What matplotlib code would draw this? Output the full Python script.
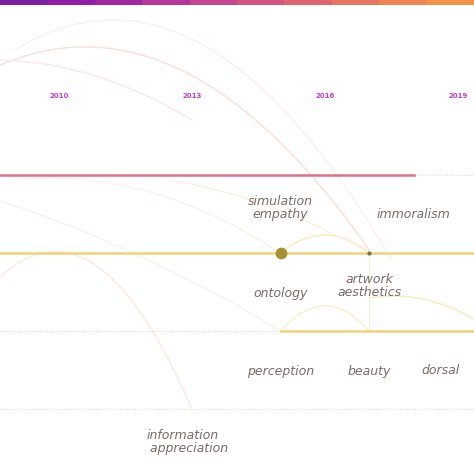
import numpy as np
import matplotlib
matplotlib.use("Agg")
from matplotlib import pyplot as plt

# timeline scale
years = [2010, 2013, 2016, 2019]
bar_colors = ["#7b1fa2", "#8e1fa6", "#a524a0", "#b8349a", "#c64490", "#d65482",
              "#e06470", "#ea7462", "#f18452", "#f5924a"]

# clusters (lane y in pixels), solid span (start year, end year)
lane_y = [175, 253, 331, 409]
lane_color = ["#e0708a", "#efd27a", "#efd27a", "#e0d8d0"]
lane_span = [(2008.6, 2018.0), (2008.6, 2019.4), (2015.0, 2019.4), None]

labels = ["simulation\nempathy", "immoralism", "ontology", "artwork\naesthetics", "de",
          "perception", "beauty", "dorsal", "information\n   appreciation"]
label_x = [2015.0, 2018.0, 2015.0, 2017.0, 2019.35, 2015.0, 2017.0, 2018.6, 2012.8]
label_y = [208, 215, 293, 286, 293, 371, 371, 371, 442]

# citation links: (year1, y1, year2, y2, peak height, colour)
links = [(2008.0, 80, 2017.0, 250, 100, "#f5e2dc"),
         (2008.5, 60, 2013.0, 120, 15, "#f8ebe7"),
         (2009.0, 50, 2017.5, 260, 110, "#faf1ee"),
         (2015.0, 253, 2017.0, 253, 18, "#f7ecc0"),
         (2015.0, 331, 2017.0, 331, 25, "#f9f0d0"),
         (2017.0, 298, 2019.4, 320, 10, "#f7ecc0"),
         (2009.0, 180, 2015.0, 253, 25, "#f9f3ea"),
         (2012.5, 180, 2017.0, 253, 10, "#f9f2e4"),
         (2008.6, 280, 2013.0, 409, 80, "#f8ece5"),
         (2008.6, 200, 2015.0, 331, 10, "#faf3ec")]

def px2yr(px):
    return 2010 + (px - 59) / 44.33

fig = plt.figure(figsize=(4.74, 4.74), dpi=100)
ax = fig.add_axes([0, 0, 1, 1])
ax.set_xlim(px2yr(0), px2yr(474))
ax.set_ylim(474, 0)
ax.axis("off")

# colour bar on top
edges = np.linspace(px2yr(0), px2yr(474), len(bar_colors) + 1)
for i, c in enumerate(bar_colors):
    ax.fill_between([edges[i], edges[i + 1]], 0, 5, color=c, lw=0)

for yr in years:
    ax.text(yr, 96, str(yr), color="#c040c8", fontsize=5, fontweight="bold",
            ha="center", va="center")

for x1, y1, x2, y2, h, c in links:
    t = np.linspace(0, 1, 100)
    xs = x1 + (x2 - x1) * t
    ys = y1 + (y2 - y1) * t - h * 4 * t * (1 - t)
    ax.plot(xs, ys, color=c, lw=1.1, zorder=1)

for y, c, span in zip(lane_y, lane_color, lane_span):
    ax.plot([px2yr(0), px2yr(474)], [y, y], color="#d8d8d8", lw=0.6, ls=(0, (1.5, 2)), zorder=2)
    if span:
        ax.plot(span, [y, y], color=c, lw=1.8, zorder=3)

ax.plot([2017.0, 2017.0], [253, 331], color="#f3eee0", lw=0.8, zorder=2)
ax.scatter([2015.0], [253], s=55, color="#a89030", zorder=4)
ax.scatter([2017.0], [253], s=4, color="#807040", zorder=4)

for t, x, y in zip(labels, label_x, label_y):
    ax.text(x, y, t, fontsize=9, style="italic", color="#7a6a66",
            ha="left" if t == "de" else "center", va="center", linespacing=1.0)

fig.savefig("out.png", dpi=100)
